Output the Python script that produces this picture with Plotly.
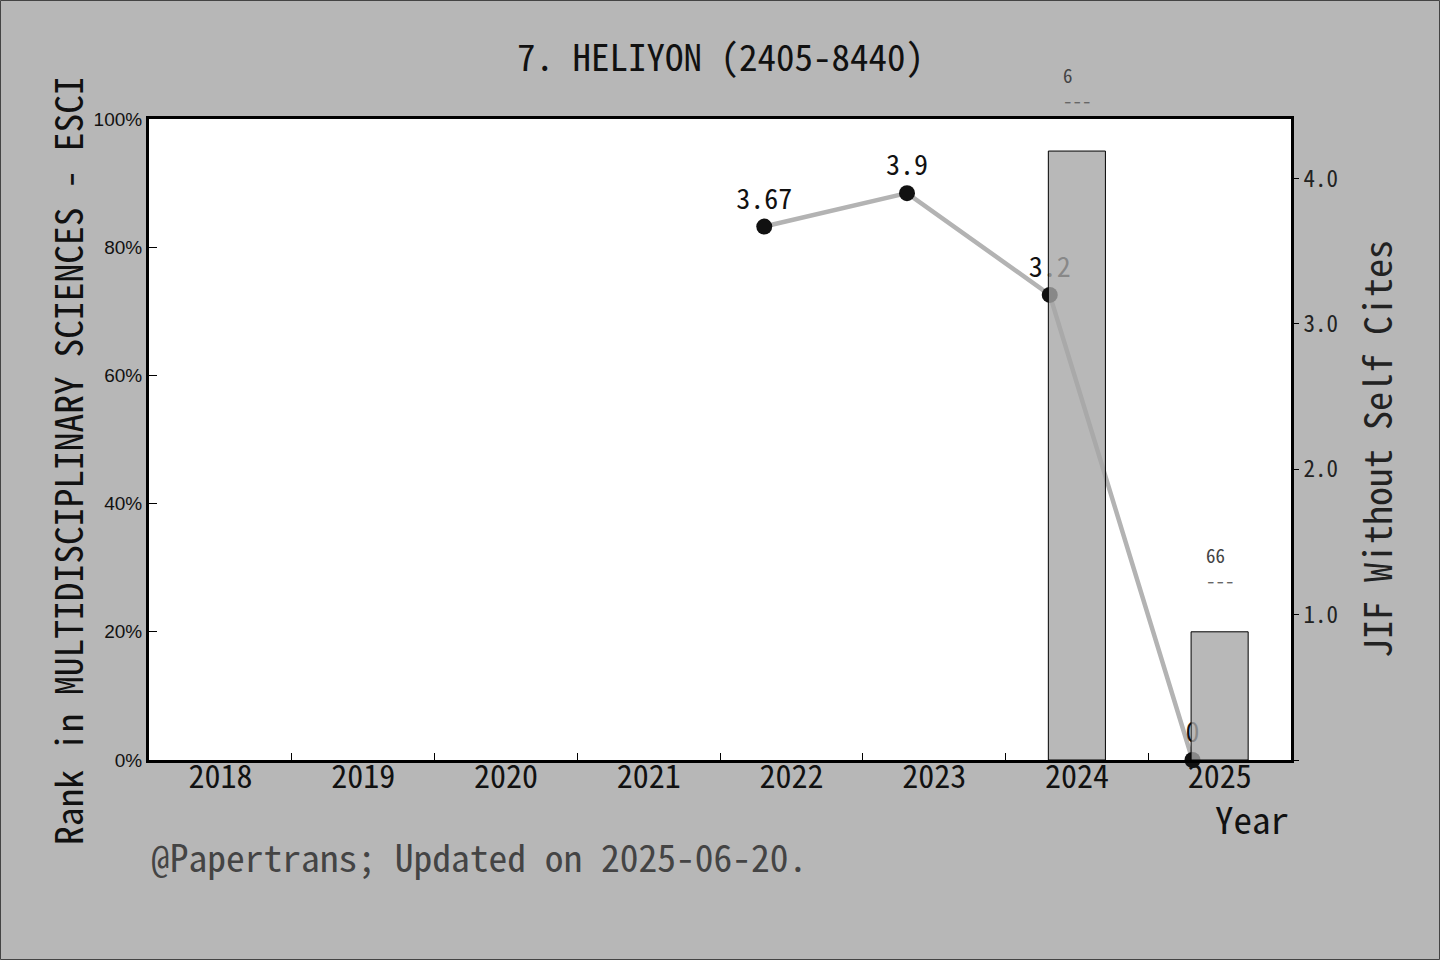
import plotly.graph_objects as go

years = [2018, 2019, 2020, 2021, 2022, 2023, 2024, 2025]
jif_years = [2022, 2023, 2024, 2025]
jif_values = [3.67, 3.9, 3.2, 0]
jif_labels = ["3.67", "3.9", "3.2", "0"]
rank_years = [2024, 2025]
rank_pct = [95, 20]
rank_labels = ["6", "66"]
pct_ticks = [0, 20, 40, 60, 80, 100]
jif_ticks = [0, 1, 2, 3, 4]
jif_ticktext = ["", "1.0", "2.0", "3.0", "4.0"]

MONO = "Noto Sans Mono CJK SC, Noto Sans CJK SC, DejaVu Sans Mono, monospace"
SANS = "Liberation Sans, Arial, sans-serif"
BG = "#b7b7b7"

# plot area in pixels
L, R, T, B = 149, 1291, 119, 760
PW, PH = R - L, B - T

def px_x(p):
    return (p - L) / PW

def px_y(p):
    return (B - p) / PH

fig = go.Figure()

# line (drawn on main subplot so the bars overlay it)
fig.add_trace(go.Scatter(
    x=[y - 0.19 for y in jif_years], y=jif_values, yaxis="y",
    mode="lines+markers+text", text=jif_labels, textposition="top center",
    textfont=dict(family=MONO, size=28, color="#111111"),
    line=dict(color="#b3b3b3", width=4.5),
    marker=dict(color="#111111", size=16),
    cliponaxis=False, showlegend=False, hoverinfo="skip",
))

# bars on the overlaying percent axis (left side)
fig.add_trace(go.Bar(
    x=rank_years, y=rank_pct, yaxis="y2", width=0.4,
    marker=dict(color="rgba(166,166,166,0.8)", line=dict(color="#000000", width=1)),
    showlegend=False, hoverinfo="skip",
))

annotations = []
for yr, v, lab in zip(rank_years, rank_pct, rank_labels):
    annotations.append(dict(
        x=yr, y=v, xref="x", yref="y2", yanchor="middle", xanchor="left",
        yshift=77, xshift=-16, showarrow=False,
        text=lab, font=dict(family=MONO, size=19, color="#444444"),
    ))
    annotations.append(dict(
        x=yr, y=v, xref="x", yref="y2", yanchor="middle", xanchor="left",
        yshift=52, xshift=-16, showarrow=False,
        text="---", font=dict(family=MONO, size=19, color="#666666"),
    ))

annotations += [
    dict(text="7. HELIYON (2405-8440)", x=px_x(720), y=px_y(55), xref="paper", yref="paper",
         xanchor="center", yanchor="middle", showarrow=False,
         font=dict(family=MONO, size=37, color="#111111")),
    dict(text="@Papertrans; Updated on 2025-06-20.", x=px_x(149), y=px_y(855), xref="paper",
         yref="paper", xanchor="left", yanchor="middle", showarrow=False,
         font=dict(family=MONO, size=37.5, color="#444444")),
    dict(text="Year", x=1.0, y=px_y(818), xref="paper", yref="paper",
         xanchor="right", yanchor="middle", showarrow=False,
         font=dict(family=MONO, size=37, color="#111111")),
    dict(text="Rank in MULTIDISCIPLINARY SCIENCES - ESCI", x=px_x(67), y=px_y(461),
         xref="paper", yref="paper", xanchor="center", yanchor="middle", textangle=-90,
         showarrow=False, font=dict(family=MONO, size=37.5, color="#111111")),
    dict(text="JIF Without Self Cites", x=px_x(1375), y=px_y(449),
         xref="paper", yref="paper", xanchor="center", yanchor="middle", textangle=-90,
         showarrow=False, font=dict(family=MONO, size=38, color="#222222")),
]

fig.update_layout(
    width=1440, height=960,
    paper_bgcolor=BG, plot_bgcolor="#ffffff",
    margin=dict(l=L, r=1440 - R, t=T, b=960 - B, pad=0),
    showlegend=False,
    annotations=annotations,
    shapes=[dict(type="rect", xref="paper", yref="paper",
                 x0=px_x(0.5), x1=px_x(1439.5), y0=px_y(959.5), y1=px_y(0.5),
                 line=dict(color="#444444", width=1), layer="below")],
    xaxis=dict(
        range=[years[0] - 0.5, years[-1] + 0.5], tickmode="array", tickvals=years,
        ticktext=[str(y) for y in years], ticks="", showgrid=False, zeroline=False,
        showline=True, linecolor="#000000", linewidth=3, mirror=True,
        tickfont=dict(family=MONO, size=32, color="#111111"),
        ticklabelstandoff=-13,
        minor=dict(tickvals=[y + 0.5 for y in years[:-1]], ticks="inside", ticklen=7,
                   tickcolor="#000000", tickwidth=1, showgrid=False),
    ),
    yaxis=dict(
        side="right", range=[0, 4.41], tickmode="array", tickvals=jif_ticks,
        ticktext=jif_ticktext, ticks="outside", ticklen=5, tickcolor="#000000",
        showgrid=False, zeroline=False, showline=True, linecolor="#000000", linewidth=3,
        tickfont=dict(family=MONO, size=23, color="#222222"),
    ),
    yaxis2=dict(
        side="left", overlaying="y", range=[0, 100], tickmode="array", tickvals=pct_ticks,
        ticktext=[f"{v}%" for v in pct_ticks], ticks="inside", ticklen=8, tickcolor="#000000",
        showgrid=False, zeroline=False, showline=True, linecolor="#000000", linewidth=3,
        tickfont=dict(family=SANS, size=19, color="#111111"),
    ),
)

fig.write_html("out.html", config={"displayModeBar": False},
               post_script="document.body.style.margin='0px';")
